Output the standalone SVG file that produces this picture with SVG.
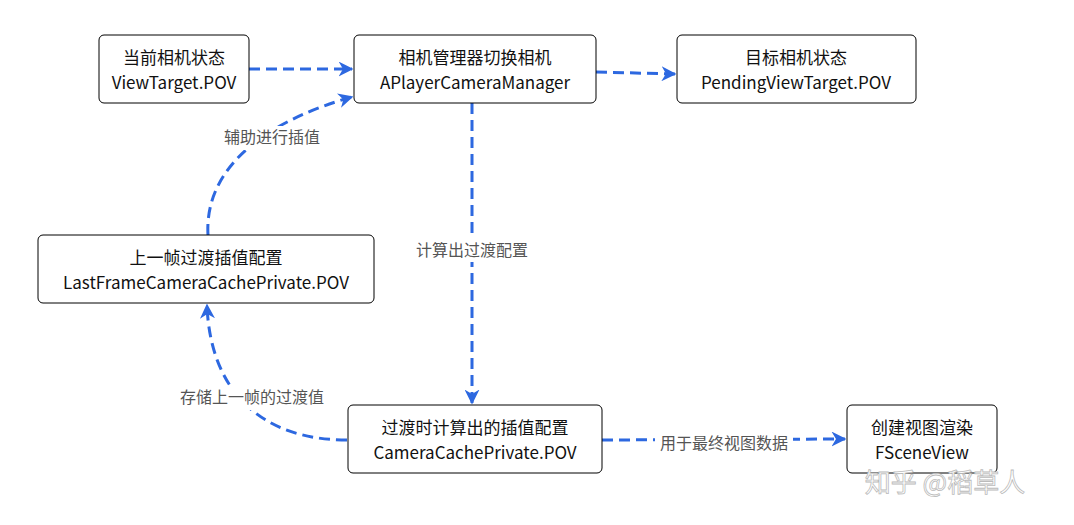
<svg xmlns="http://www.w3.org/2000/svg" width="1074" height="525" viewBox="0 0 1074 525">
<style>
.n rect{fill:#fff;stroke:#000;stroke-width:1}
.n text{font-family:"Noto Sans CJK SC","Noto Sans",sans-serif;font-size:17px;fill:#111;text-anchor:middle}
.c path{fill:none;stroke:#2d68e0;stroke-width:3;stroke-dasharray:11 6}
.l{font-family:"Noto Sans CJK SC",sans-serif;font-size:16px;fill:#555;text-anchor:middle}
.b{fill:#fff}
</style>
<defs><marker id="a" viewBox="0 0 10 10" refX="9" refY="5" markerWidth="5" markerHeight="5" orient="auto"><path d="M0,0L10,5L0,10L3,5z" fill="#2d68e0"/></marker></defs>
<rect width="1074" height="525" fill="#fff"/>
<g class="c">
<path d="M249,69H352" marker-end="url(#a)"/>
<path d="M596,72L675,74" marker-end="url(#a)"/>
<path d="M472,103V403" marker-end="url(#a)"/>
<path d="M602,440L845,439" marker-end="url(#a)"/>
<path d="M347,440C260,440 210,390 207,305" marker-end="url(#a)"/>
<path d="M208,235C204,165 270,120 352,97" marker-end="url(#a)"/>
</g>
<rect class="b" x="410" y="238" width="124" height="24"/>
<text class="l" x="472" y="256">计算出过渡配置</text>
<rect class="b" x="655" y="430" width="138" height="24"/>
<text class="l" x="724" y="449">用于最终视图数据</text>
<rect class="b" x="222" y="126" width="100" height="24"/>
<text class="l" x="272" y="143">辅助进行插值</text>
<rect class="b" x="176" y="386" width="152" height="24"/>
<text class="l" x="252" y="403">存储上一帧的过渡值</text>
<g id="n1" class="n"><rect x="99" y="35" width="150" height="68" rx="5"/><text x="174" y="64">当前相机状态</text><text x="174" y="89">ViewTarget.POV</text></g>
<g id="n2" class="n"><rect x="354" y="35" width="242" height="68" rx="5"/><text x="475" y="64">相机管理器切换相机</text><text x="475" y="89">APlayerCameraManager</text></g>
<g id="n3" class="n"><rect x="677" y="35" width="239" height="68" rx="5"/><text x="796" y="64">目标相机状态</text><text x="796" y="89">PendingViewTarget.POV</text></g>
<g id="n4" class="n"><rect x="38" y="235" width="336" height="68" rx="5"/><text x="206" y="264">上一帧过渡插值配置</text><text x="206" y="289">LastFrameCameraCachePrivate.POV</text></g>
<g id="n5" class="n"><rect x="348" y="405" width="254" height="68" rx="5"/><text x="475" y="434">过渡时计算出的插值配置</text><text x="475" y="459">CameraCachePrivate.POV</text></g>
<g id="n6" class="n"><rect x="847" y="405" width="150" height="68" rx="5"/><text x="922" y="434">创建视图渲染</text><text x="922" y="459">FSceneView</text></g>
<text x="945" y="492" font-family="Noto Sans CJK SC,sans-serif" font-size="26" fill="#fff" stroke="#bbb" stroke-width="0.8" text-anchor="middle">知乎 @稻草人</text>
</svg>
